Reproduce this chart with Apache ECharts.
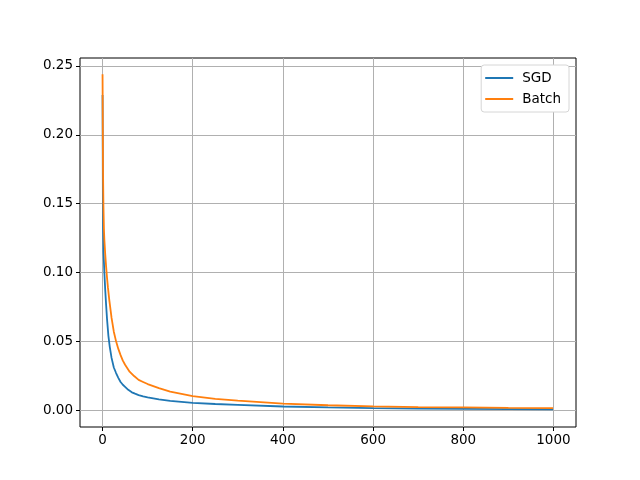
<!DOCTYPE html>
<html>
<head>
<meta charset="utf-8">
<script src="https://cdn.jsdelivr.net/npm/echarts@6/dist/echarts.min.js"></script>
<style>html,body{margin:0;padding:0;background:#fff;}#c{width:640px;height:480px;}</style>
</head>
<body>
<div id="c"></div>
<script>
const sgdX = [0,1,2,3,4,6,8,10,13,16,20,25,30,35,40,45,50,57,65,72,80,90,100,125,150,200,250,300,400,500,600,700,800,900,999];
const sgdY = [0.229,0.135,0.115,0.108,0.100,0.087,0.076,0.066,0.054,0.046,0.038,0.031,0.027,0.0235,0.0205,0.0185,0.017,0.0148,0.013,0.012,0.011,0.010,0.0093,0.0078,0.0067,0.0053,0.0045,0.0039,0.0027,0.0020,0.0015,0.0012,0.0010,0.0008,0.0007];
const batchX = [0,1,2,3,4,6,8,10,12,15,20,25,30,35,40,45,50,55,60,70,80,90,100,125,150,200,250,300,400,500,600,700,800,900,999];
const batchY = [0.244,0.175,0.148,0.132,0.124,0.113,0.104,0.096,0.089,0.080,0.067,0.057,0.050,0.0445,0.040,0.036,0.033,0.0305,0.028,0.0248,0.022,0.0205,0.019,0.016,0.0135,0.0102,0.0083,0.0070,0.0048,0.0036,0.0028,0.0023,0.0020,0.0017,0.0015];
const xTicks = [0,200,400,600,800,1000];
const yTicks = [0.00,0.05,0.10,0.15,0.20,0.25];
const seriesNames = ['SGD','Batch'];

const chart = echarts.init(document.getElementById('c'), null, {renderer:'canvas'});
const font = 'DejaVu Sans';
const pair = (xs, ys) => xs.map((x,i)=>[x, ys[i]]);
chart.setOption({
  animation:false,
  backgroundColor:'#fff',
  grid:{left:80,right:64,top:58,bottom:53,show:true,borderColor:'#000',borderWidth:1,backgroundColor:'transparent'},
  xAxis:{type:'value',min:-50,max:1050,splitNumber:5,
    axisLine:{show:false,onZero:false},
    axisTick:{show:true,length:4,inside:false,customValues:xTicks,lineStyle:{color:'#000',width:1}},
    axisLabel:{customValues:xTicks,color:'#000',fontFamily:font,fontSize:13.5,margin:6,formatter:v=>String(v)},
    splitLine:{show:true,lineStyle:{color:'#b0b0b0',width:1}}
  },
  yAxis:{type:'value',min:-0.0122,max:0.2558,splitNumber:5,
    axisLine:{show:false,onZero:false},
    axisTick:{show:true,length:4,inside:false,customValues:yTicks,lineStyle:{color:'#000',width:1}},
    axisLabel:{customValues:yTicks,color:'#000',fontFamily:font,fontSize:13.5,margin:7,formatter:v=>v.toFixed(2)},
    splitLine:{show:true,lineStyle:{color:'#b0b0b0',width:1}}
  },
  legend:{show:true,orient:'vertical',right:71,top:65,data:seriesNames,
    icon:'rect',itemWidth:28,itemHeight:2,itemGap:7,
    padding:[6,8,6,4],backgroundColor:'#fff',borderColor:'#d6d6d6',borderWidth:1,borderRadius:3,
    textStyle:{fontFamily:font,fontSize:13.5,color:'#000',padding:[0,0,0,4]}
  },
  series:[
    {name:seriesNames[0],type:'line',data:pair(sgdX,sgdY),showSymbol:false,smooth:false,
      lineStyle:{color:'#1f77b4',width:1.8},itemStyle:{color:'#1f77b4'}},
    {name:seriesNames[1],type:'line',data:pair(batchX,batchY),showSymbol:false,smooth:false,
      lineStyle:{color:'#ff7f0e',width:1.8},itemStyle:{color:'#ff7f0e'}}
  ]
});
</script>
</body>
</html>
